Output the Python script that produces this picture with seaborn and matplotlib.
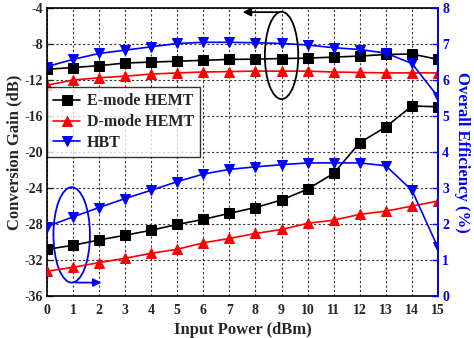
import numpy as np
import pandas as pd
import matplotlib
matplotlib.use("Agg")
import matplotlib.pyplot as plt
import seaborn as sns
from matplotlib.patches import Ellipse

power = list(range(16))
series_names = ["E-mode HEMT", "D-mode HEMT", "HBT"]
gain_e = [-10.8, -10.6, -10.4, -10.1, -10.0, -9.9, -9.8, -9.7, -9.67, -9.6, -9.56, -9.44, -9.33, -9.15, -9.1, -9.7]
gain_d = [-12.56, -12.0, -11.74, -11.56, -11.33, -11.2, -11.1, -11.05, -11.0, -11.0, -11.0, -11.1, -11.15, -11.2, -11.2, -11.2]
gain_h = [-10.5, -9.7, -9.04, -8.67, -8.3, -7.93, -7.8, -7.8, -7.85, -7.93, -8.1, -8.4, -8.6, -9.0, -10.15, -13.85]
eff_e = [1.30, 1.41, 1.56, 1.69, 1.83, 1.99, 2.13, 2.30, 2.46, 2.67, 2.97, 3.41, 4.26, 4.70, 5.28, 5.26]
eff_d = [0.69, 0.80, 0.93, 1.05, 1.19, 1.30, 1.48, 1.60, 1.74, 1.85, 2.02, 2.11, 2.27, 2.36, 2.50, 2.64]
eff_h = [1.93, 2.20, 2.46, 2.71, 2.94, 3.18, 3.39, 3.52, 3.59, 3.65, 3.70, 3.70, 3.70, 3.62, 2.94, 1.35]
left_ticks = [-36, -32, -28, -24, -20, -16, -12, -8, -4]
right_ticks = [0, 1, 2, 3, 4, 5, 6, 7, 8]

sns.set_style("white")
plt.rcParams['font.family'] = ['Liberation Serif', 'DejaVu Serif']
plt.rcParams['font.weight'] = 'bold'

colors = ["black", "red", "blue"]
markers = ["s", "^", "v"]

fig = plt.figure(figsize=(4.74, 3.38), dpi=100)
ax = fig.add_axes([0.099, 0.124, 0.825, 0.852])
ax2 = ax.twinx()

gain_df = pd.DataFrame({"power": power * 3,
                        "value": gain_e + gain_d + gain_h,
                        "series": sum([[n] * len(power) for n in series_names], [])})
eff_df = pd.DataFrame({"power": power * 3,
                       "value": eff_e + eff_d + eff_h,
                       "series": sum([[n] * len(power) for n in series_names], [])})

for name, c, m in zip(series_names, colors, markers):
    sub = gain_df[gain_df.series == name]
    sns.lineplot(data=sub, x="power", y="value", ax=ax, color=c, marker=m,
                 markersize=7 if m != "s" else 6.5, markeredgecolor=c,
                 linewidth=1.2, label=name, legend=False)
    sub2 = eff_df[eff_df.series == name]
    sns.lineplot(data=sub2, x="power", y="value", ax=ax2, color=c, marker=m,
                 markersize=7 if m != "s" else 6.5, markeredgecolor=c,
                 linewidth=1.2, legend=False)

ax.set_xlim(0, 15)
ax.set_ylim(-36, -4)
ax2.set_ylim(0, 8)
ax.set_xticks(power)
ax.set_yticks(left_ticks)
ax2.set_yticks(right_ticks)
ax.set_xticklabels([str(p) for p in power], fontsize=10, fontweight='bold')
ax.set_yticklabels([str(t) for t in left_ticks], fontsize=10, fontweight='bold')
ax2.set_yticklabels([str(t) for t in right_ticks], fontsize=10, fontweight='bold', color='blue')

ax.grid(True, linestyle=(0, (2, 2)), color='#333333', linewidth=0.8)
ax.set_axisbelow(True)
ax.tick_params(axis='y', direction='in', length=4, width=1, pad=3)
ax.tick_params(axis='x', direction='in', length=4, width=1, pad=6)
ax2.tick_params(direction='in', length=4, width=1, colors='blue', pad=3)
for s in ax.spines.values():
    s.set_linewidth(1.2)
    s.set_color('black')
ax2.spines['right'].set_color('blue')
ax2.spines['right'].set_linewidth(1.2)
for s in ['left', 'top', 'bottom']:
    ax2.spines[s].set_visible(False)

ax.set_xlabel("Input Power (dBm)", fontsize=12, fontweight='bold', labelpad=3)
ax.set_ylabel("Conversion Gain (dB)", fontsize=12, fontweight='bold', labelpad=1)
ax2.set_ylabel("Overall Efficiency (%)", fontsize=12, fontweight='bold', color='blue',
               rotation=270, labelpad=15)

# annotations (ellipses + arrows)
ax.add_patch(Ellipse((9.0, -9.26), 1.28, 9.7, fill=False, edgecolor='black', linewidth=1.3, zorder=5))
ax.annotate("", xy=(7.4, -4.45), xytext=(9.0, -4.45),
            arrowprops=dict(arrowstyle='-|>', color='black', lw=1.3, mutation_scale=12), zorder=5)
ax.add_patch(Ellipse((0.95, -29.2), 1.4, 10.6, fill=False, edgecolor='blue', linewidth=1.3, zorder=5))
ax.annotate("", xy=(2.2, -34.5), xytext=(1.0, -34.5),
            arrowprops=dict(arrowstyle='-|>', color='blue', lw=1.3, mutation_scale=12), zorder=5)

handles, labels = ax.get_legend_handles_labels()
leg = ax.legend(handles, labels, loc='upper left', bbox_to_anchor=(0.0, 0.726),
                prop={'family': ['Liberation Serif'], 'weight': 'bold', 'size': 11.5},
                frameon=True, fancybox=False, edgecolor='black',
                borderpad=0.4, labelspacing=0.3, handlelength=1.7, handletextpad=0.4,
                borderaxespad=0)
leg.get_frame().set_linewidth(1.0)
leg.set_zorder(6)

fig.savefig("out.png", dpi=100)
